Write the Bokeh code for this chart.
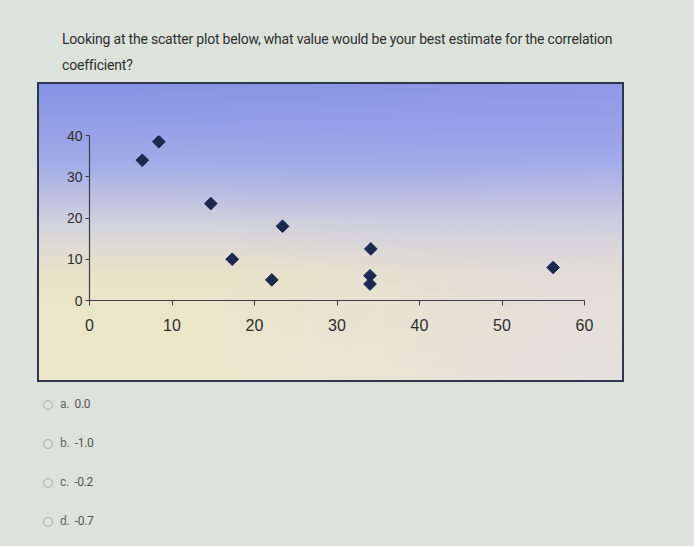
import numpy as np
from bokeh.plotting import figure
from bokeh.models import Div, Range1d, FixedTicker
from bokeh.layouts import column
from bokeh.embed import file_html
from bokeh.resources import INLINE

# ---- data ----
question_line1 = "Looking at the scatter plot below, what value would be your best estimate for the correlation"
question_line2 = "coefficient?"
x_vals = [6.4, 8.4, 14.7, 17.3, 22.1, 23.4, 34.1, 34.0, 34.0, 56.2]
y_vals = [34.0, 38.5, 23.5, 10.0, 5.0, 18.0, 12.5, 6.0, 4.0, 8.0]
x_ticks = [0, 10, 20, 30, 40, 50, 60]
y_ticks = [0, 10, 20, 30, 40]
option_letters = ["a.", "b.", "c.", "d."]
option_values = ["0.0", "-1.0", "-0.2", "-0.7"]

PAGE_BG = "#dde2dc"

q_html = (
    '<div style="font-family:Roboto, sans-serif;font-size:14px;color:#2f2f2f;'
    'line-height:26px;padding-top:21px;padding-left:57px;letter-spacing:-0.2px;">'
    f'{question_line1}<br>{question_line2}</div>'
)
q_div = Div(text=q_html, width=684, height=74,
            styles={"background": PAGE_BG})

grad = (
    "radial-gradient(ellipse at 100% 100%, rgba(226,222,226,0.85) 0%, rgba(226,222,226,0) 55%), "
    "radial-gradient(ellipse at 100% 0%, rgba(160,160,238,0.45) 0%, rgba(160,160,238,0) 60%), "
    "linear-gradient(to bottom, #8493e3 0%, #a2ace7 27%, #d2d2dc 47%, #e9e3c9 64%, #eee8cb 100%)"
)

p = figure(width=583, height=296,
           x_range=Range1d(0, 60), y_range=Range1d(0, 40),
           output_backend="svg", toolbar_location=None,
           min_border_left=50, min_border_right=38,
           min_border_top=51, min_border_bottom=80,
           background_fill_alpha=0, border_fill_alpha=0,
           outline_line_color=None,
           margin=(0, 0, 0, 39),
           styles={"background": grad, "outline": "2px solid #30364c"})

p.grid.visible = False
p.xaxis.ticker = FixedTicker(ticks=x_ticks)
p.yaxis.ticker = FixedTicker(ticks=y_ticks)
for ax in (p.xaxis, p.yaxis):
    ax.axis_line_color = "#3a3d4a"
    ax.axis_line_width = 1.2
    ax.major_tick_line_color = "#3a3d4a"
    ax.minor_tick_line_color = None
    ax.major_tick_in = 0
    ax.major_label_text_font = "Liberation Sans"
    ax.major_label_text_color = "#2e2e2e"
p.xaxis.major_tick_out = 5
p.xaxis.major_label_standoff = 13
p.xaxis.major_label_text_font_size = "16px"
p.yaxis.major_tick_out = 4
p.yaxis.major_label_standoff = 3
p.yaxis.major_label_text_font_size = "14px"

p.scatter(x_vals, y_vals, marker="square", angle=np.pi / 4, size=9,
          fill_color="#1c2850", line_color="#1c2850")

rows = []
for letter, val in zip(option_letters, option_values):
    rows.append(
        '<div style="height:39px;line-height:39px;">'
        '<span style="display:inline-block;width:10px;height:10px;border:1.5px solid #a9aba6;'
        'border-radius:50%;vertical-align:middle;margin-right:7px;"></span>'
        f'<span style="color:#666;">{letter}</span>&nbsp;&nbsp;'
        f'<span style="color:#555;">{val}</span></div>'
    )
opt_html = ('<div style="font-family:Roboto, sans-serif;font-size:12px;padding-left:38px;'
            'letter-spacing:-0.3px;">' + "".join(rows) + '</div>')
opt_div = Div(text=opt_html, width=684, height=156,
              styles={"background": PAGE_BG})

layout = column(q_div, p, opt_div, spacing=0,
                styles={"background": PAGE_BG})

open("out.html", "w").write(file_html(layout, INLINE))
